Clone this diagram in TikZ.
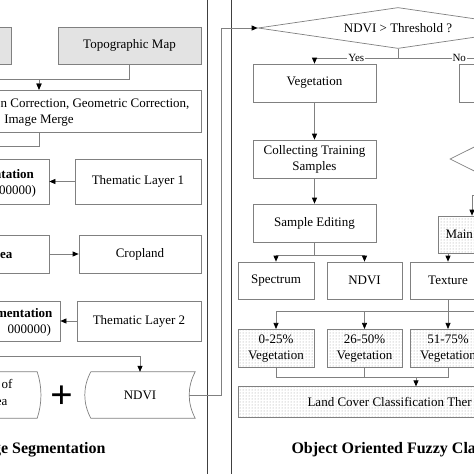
\documentclass[tikz,border=0pt]{standalone}
\usepackage{fontspec}
\setmainfont{Liberation Serif}
\usetikzlibrary{arrows.meta,shapes.geometric,patterns,calc}

\begin{document}
\begin{tikzpicture}[x=1pt,y=-1pt,>={Triangle[length=6pt,width=5pt,color=black]},
    every node/.style={font=\fontsize{13}{16}\selectfont},
    wire/.style={draw=black!50,line width=0.7pt},
    box/.style={wire,rectangle,fill=white,align=center,inner sep=2pt},
    greybox/.style={box,fill=black!11},
    dotbox/.style={box,fill=none,preaction={fill=white},pattern=dots,pattern color=black!40},
    lbl/.style={fill=white,inner sep=1pt,font=\fontsize{11}{12}\selectfont},
    panel/.style={draw=black!75,line width=1pt}]

  \useasboundingbox (0,0) rectangle (474,474);
  \clip (0,0) rectangle (474,474);
  \fill[white] (0,0) rectangle (474,474);

  % left panel
  \node[greybox,minimum width=72pt,minimum height=37pt] (src) at (-25,45.5) {};
  \node[greybox,minimum width=143pt,minimum height=37pt] (topo) at (129.5,45.5) {Topographic Map};
  \node[box,minimum width=324pt,minimum height=42pt] (corr) at (39,111) {};
  \node[anchor=base east] (corr1) at (193,107) {n Correction, Geometric Correction,};
  \node[anchor=base] (corr2) at (39,123) {Image Merge};

  \node[box,minimum width=178pt,minimum height=45pt] (seg1) at (-40,181.5) {};
  \node[anchor=base east] (seg1a) at (37.5,178) {\textbf{ntation}};
  \node[anchor=base east] (seg1b) at (39.5,194) {=00000)};
  \node[box,minimum width=126pt,minimum height=45pt] (tl1) at (138,181.5) {Thematic Layer 1};

  \node[box,minimum width=178pt,minimum height=38pt] (area) at (-40,254) {};
  \node[anchor=base east] (areat) at (16,258) {\textbf{rea}};
  \node[box,minimum width=122pt,minimum height=38pt] (crop) at (140,254) {Cropland};

  \node[box,minimum width=180pt,minimum height=40pt] (seg2) at (-30,321) {};
  \node[anchor=base east] (seg2a) at (56,317) {\textbf{mentation}};
  \node[anchor=base east] (seg2b) at (54.5,333) {000000)};
  \node[box,minimum width=124pt,minimum height=40pt] (tl2) at (139,321) {Thematic Layer 2};

  \node[minimum width=154pt,minimum height=46pt] (lt) at (-40,395) {};
  \draw[wire] (lt.north west) -- (lt.north east) .. controls +(5,15) and +(5,-15) .. (lt.south east) -- (lt.south west);
  \node[anchor=base east] (lta) at (16,388) {s of};
  \node[anchor=base east] (ltb) at (11,405) {ea};

  \node[font=\fontsize{40}{40}\selectfont\bfseries] (plus) at (62,397) {+};

  \node[minimum width=110pt,minimum height=46pt] (ndvi) at (140,395) {NDVI};
  \draw[wire] ($(ndvi.north west)+(6,0)$) -- (ndvi.north east)
      .. controls +(-8,15) and +(-8,-15) .. (ndvi.south east) -- ($(ndvi.south west)+(6,0)$)
      .. controls +(-8,-15) and +(-8,15) .. ($(ndvi.north west)+(6,0)$);

  \draw[wire,->] (src.south) -- ++(0,15) -| (corr.north);
  \draw[wire,->] (topo.south) -- ++(0,15) -| (corr.north);
  \draw[wire,->] (corr.south) -- ++(0,14) -| (seg1.north);
  \draw[wire,->] (tl1.west) -- (seg1.east);
  \draw[wire,->] (area.east) -- (crop.west);
  \draw[wire,->] (tl2.west) -- (seg2.east);
  \draw[wire,->] (seg2.south) -- ++(0,15) -| (ndvi.north);

  \node[anchor=base east,font=\fontsize{16}{18}\selectfont\bfseries] (title1) at (109,453) {ge Segmentation};

  \draw[panel] (207,0) -- (207,474);
  \draw[panel] (231,0) -- (231,474);

  % right panel
  \node[wire,diamond,aspect=6.8,inner sep=0pt,minimum width=280pt,minimum height=41pt] (dia) at (398,28) {NDVI > Threshold ?};
  \draw[wire,->] ($(ndvi.east)+(-6,0)$) -- ++(32,0) |- (dia.west);

  \node[box,minimum width=123pt,minimum height=38pt] (veg) at (314.5,83) {Vegetation};
  \node[box,minimum width=123pt,minimum height=38pt] (nonveg) at (520.5,83) {};
  \draw[wire,->] (dia.south) -- ++(0,9) -| node[lbl,pos=0.25] {Yes} (veg.north);
  \draw[wire,->] (dia.south) -- ++(0,9) -| node[lbl,pos=0.25] {No} (nonveg.north);

  \node[box,minimum width=123pt,minimum height=38pt] (collect) at (314.5,159) {Collecting Training\\Samples};
  \node[box,minimum width=123pt,minimum height=38pt] (edit) at (314.5,223) {Sample Editing};
  \draw[wire,->] (veg.south) -- (collect.north);
  \draw[wire,->] (collect.south) -- (edit.north);

  \node[wire,diamond,aspect=2,inner sep=0pt,minimum width=80pt,minimum height=40pt] (dia2) at (490,159) {};
  \node[dotbox,minimum width=68pt,minimum height=37pt] (main) at (472,234.5) {};
  \node[anchor=base west] (maint) at (442,238) {Main};
  \draw[wire,->] (dia2.south) -- ++(0,16) -| (main.north);

  \node[box,minimum width=76pt,minimum height=37pt] (spec) at (276,280.5) {Spectrum};
  \node[box,minimum width=75pt,minimum height=37pt] (ndvi2) at (364.5,280.5) {NDVI};
  \node[box,minimum width=76pt,minimum height=37pt] (tex) at (448,280.5) {Texture};
  \draw[wire,->] (edit.south) -- ++(0,13) -| (spec.north);
  \draw[wire,->] (edit.south) -- ++(0,13) -| (ndvi2.north);
  \draw[wire,->] (tex.north |- main.south) -- (tex.north);

  \node[dotbox,minimum width=76pt,minimum height=38pt] (p1) at (276,348.3) {0-25\%\\Vegetation};
  \node[dotbox,minimum width=75pt,minimum height=38pt] (p2) at (364.5,348.3) {26-50\%\\Vegetation};
  \node[dotbox,minimum width=76pt,minimum height=38pt] (p3) at (448,348.3) {51-75\%\\Vegetation};
  \coordinate (feed) at (480,311);
  \draw[wire,->] (feed) -| (p1.north);
  \draw[wire,->] (feed) -| (p2.north);
  \draw[wire,->] (tex.south) -- (p3.north);

  \node[dotbox,minimum width=356pt,minimum height=30.5pt] (land) at (416,402) {};
  \node[anchor=base west] (landt) at (304,406) {Land Cover Classification Ther};
  \draw[wire] (p1.south) -- ++(0,10) coordinate (jn) -| (p3.south);
  \draw[wire] (p2.south) -- (p2.south |- jn);
  \draw[wire,->] (land.north |- jn) -- (land.north);

  \node[anchor=base west,font=\fontsize{16}{18}\selectfont\bfseries] (title2) at (288,453) {Object Oriented Fuzzy Cla};

\end{tikzpicture}
\end{document}
